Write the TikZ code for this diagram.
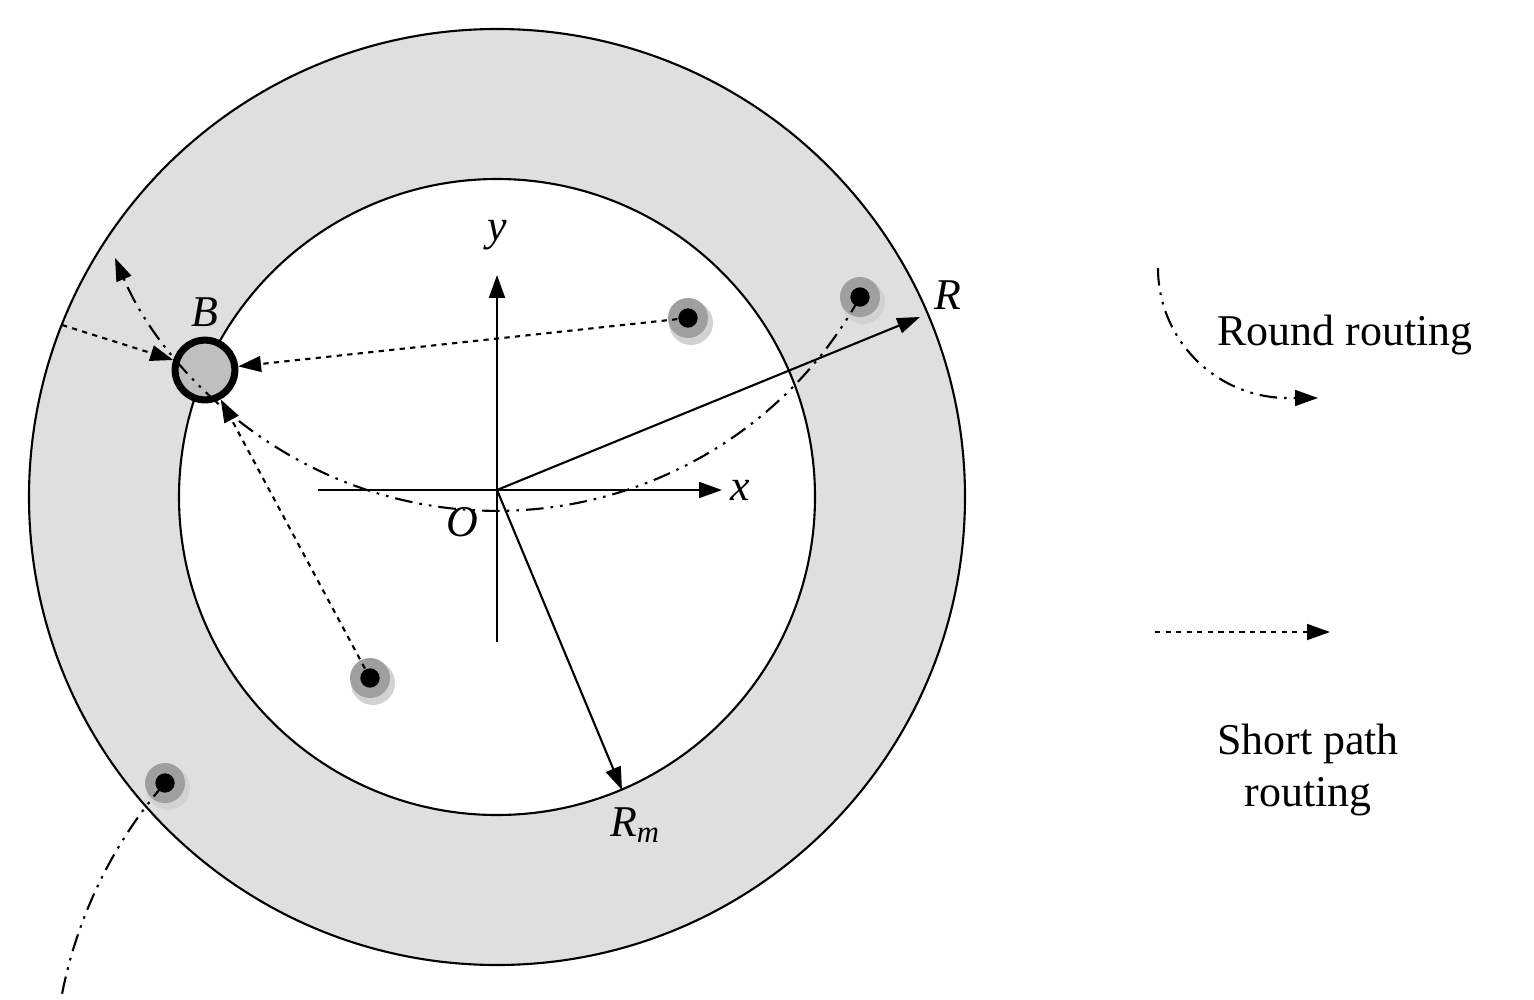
\documentclass[tikz,border=0pt]{standalone}
\usepackage{fontspec}
\setmainfont{Liberation Serif}
\usetikzlibrary{arrows.meta}
\begin{document}
\begin{tikzpicture}[x=0.02cm,y=-0.02cm,line width=1.2pt,
  tip/.style={-{Triangle[length=13pt,width=9pt]}},
  dd/.style={dash pattern=on 10pt off 4pt on 1.5pt off 4pt on 1.5pt off 4pt},
  lbl/.style={font=\fontsize{25}{30}\selectfont\itshape},
  txt/.style={font=\fontsize{25}{30}\selectfont,align=center}]
\useasboundingbox (0,0) rectangle (1534,1000);
\coordinate (C) at (497,497);
\fill[gray!25] (C) circle (468);
\draw (C) circle (468);
\fill[white] (C) circle (318);
\draw (C) circle (318);
% axes
\coordinate (O) at (497,490);
\coordinate (xl) at (318,490); \coordinate (xr) at (722,490);
\coordinate (yb) at (497,642); \coordinate (yt) at (497,275);
\draw[tip] (xl) -- (xr);
\draw[tip] (yb) -- (yt);
\coordinate (Rp) at (920,317); \coordinate (Rmp) at (622,790);
\draw[tip] (O) -- (Rp);
\draw[tip] (O) -- (Rmp);
\node[lbl] at (497,235) {y};
\node[lbl] at (740,490) {x};
\node[lbl] at (462,522) {O};
\node[lbl] at (948,295) {R};
\node[lbl] at (205,312) {B};
\node[lbl] at (635,825) {R\textsubscript{m}};
% sensors
\foreach \n/\p in {s1/{(688,318)},s2/{(860,297)},s3/{(370,678)},s4/{(165,783)}}{
  \fill[gray!35] \p ++(3,5) circle (22);
  \fill[gray!75] \p circle (20);
  \node[circle,fill=black,inner sep=0pt,minimum size=11pt] (\n) at \p {};
}
% B
\node[circle,draw=black,line width=4pt,fill=gray!50,minimum size=34pt,inner sep=0pt] (B) at (205,370) {};
% dashed arrows
\draw[tip,dashed] (s1) -- (B);
\draw[tip,dashed] (s3) -- (B);
\coordinate (E) at (62,325);
\draw[tip,dashed] (E) -- (B);
% round routing arcs
\draw[tip,dd] (s2) arc[start angle=29,end angle=157,radius=415];
\draw[tip,dd] (s4) arc[start angle=221,end angle=161,radius=443];
% legend
\coordinate (l1) at (1158,268);
\draw[tip,dd] (l1) arc[start angle=180,end angle=90,radius=130] -- ++(30,0);
\node[txt] at (1345,335) {Round routing};
\coordinate (l2) at (1155,632); \coordinate (l3) at (1330,632);
\draw[tip,dashed] (l2) -- (l3);
\node[txt] at (1308,770) {Short path\\routing};
\end{tikzpicture}
\end{document}
